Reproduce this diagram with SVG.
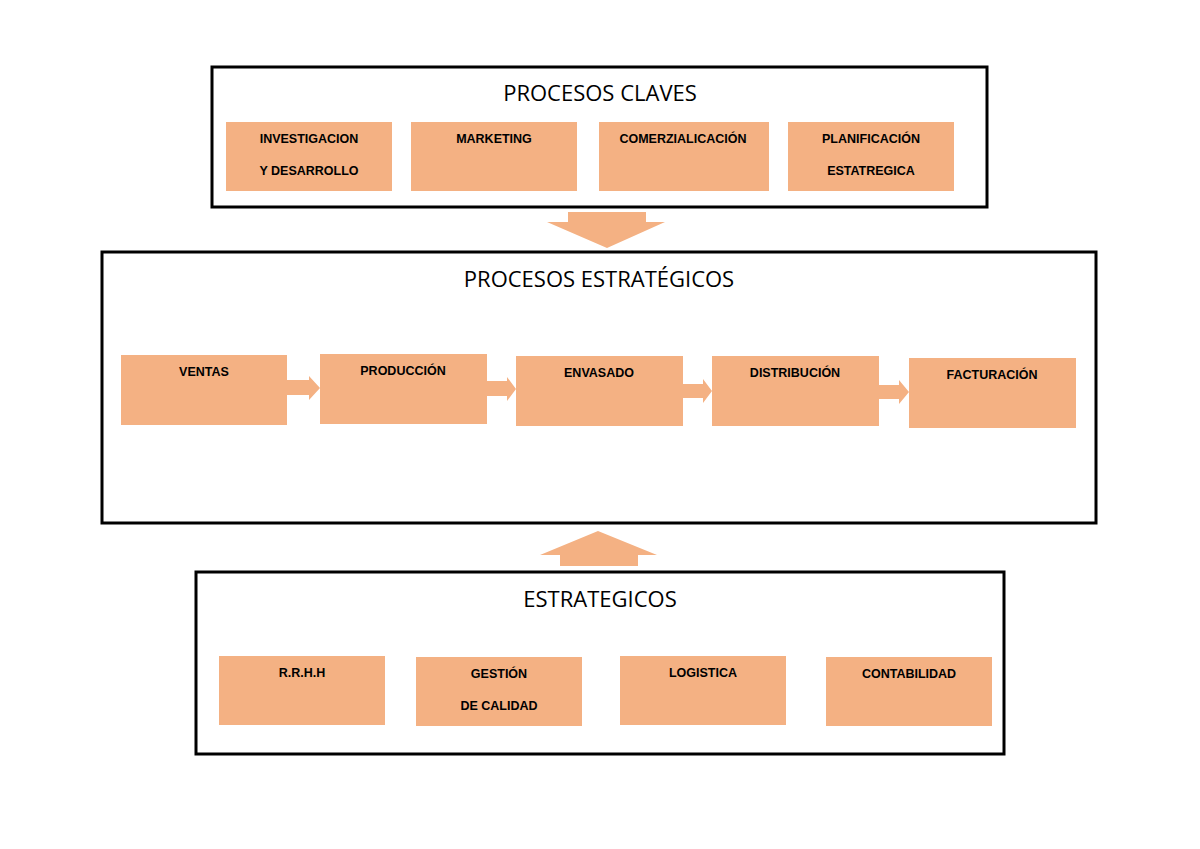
<svg xmlns="http://www.w3.org/2000/svg" width="1200" height="849" viewBox="0 0 1200 849">
<style>
.frame{fill:#fff;stroke:#000;stroke-width:3}
.box{fill:#f4b183}
.ar{fill:#f4b183}
.t{font-family:"Liberation Sans",Arial,sans-serif;font-size:12.5px;font-weight:bold;fill:#000;text-anchor:middle}
.h{font-family:"Open Sans","Liberation Sans",sans-serif;font-size:22px;fill:#000;text-anchor:middle}
</style>
<rect width="1200" height="849" fill="#fff"/>
<g id="claves">
<rect class="frame" x="212" y="67" width="775" height="140"/>
<text class="h" x="600" y="101">PROCESOS CLAVES</text>
</g>
<g id="investigacion"><rect class="box" x="226" y="122" width="166" height="69"/><text class="t" x="309" y="143">INVESTIGACION</text><text class="t" x="309" y="175">Y DESARROLLO</text></g>
<g id="marketing"><rect class="box" x="411" y="122" width="166" height="69"/><text class="t" x="494" y="143">MARKETING</text></g>
<g id="comerz"><rect class="box" x="599" y="122" width="170" height="69"/><text class="t" x="683" y="143">COMERZIALICACIÓN</text></g>
<g id="planif"><rect class="box" x="788" y="122" width="166" height="69"/><text class="t" x="871" y="143">PLANIFICACIÓN</text><text class="t" x="871" y="175">ESTATREGICA</text></g>
<g id="estrategicos-proc">
<rect class="frame" x="102" y="252" width="994" height="271"/>
<text class="h" x="599" y="287">PROCESOS ESTRATÉGICOS</text>
</g>
<g id="ventas"><rect class="box" x="121" y="355" width="166" height="70"/><text class="t" x="204" y="376">VENTAS</text></g>
<g id="produccion"><rect class="box" x="320" y="354" width="167" height="70"/><text class="t" x="403" y="375">PRODUCCIÓN</text></g>
<g id="envasado"><rect class="box" x="516" y="356" width="167" height="70"/><text class="t" x="599" y="377">ENVASADO</text></g>
<g id="distribucion"><rect class="box" x="712" y="356" width="167" height="70"/><text class="t" x="795" y="377">DISTRIBUCIÓN</text></g>
<g id="facturacion"><rect class="box" x="909" y="358" width="167" height="70"/><text class="t" x="992" y="379">FACTURACIÓN</text></g>
<g id="estrategicos">
<rect class="frame" x="196" y="572" width="808" height="182"/>
<text class="h" x="600" y="607">ESTRATEGICOS</text>
</g>
<g id="rrhh"><rect class="box" x="219" y="656" width="166" height="69"/><text class="t" x="302" y="677">R.R.H.H</text></g>
<g id="calidad"><rect class="box" x="416" y="657" width="166" height="69"/><text class="t" x="499" y="678">GESTIÓN</text><text class="t" x="499" y="710">DE CALIDAD</text></g>
<g id="logistica"><rect class="box" x="620" y="656" width="166" height="69"/><text class="t" x="703" y="677">LOGISTICA</text></g>
<g id="contabilidad"><rect class="box" x="826" y="657" width="166" height="69"/><text class="t" x="909" y="678">CONTABILIDAD</text></g>
<g id="connectors">
<polygon class="ar" points="568,212 646,212 646,222 665,222 607,248 547,222 568,222"/>
<polygon class="ar" points="598,531 657,555 638,555 638,566 560,566 560,555 540,555"/>
<polygon class="ar" points="287,380 309,380 309,376 320,388 309,400 309,395 287,395"/>
<polygon class="ar" points="487,381 507,381 507,377 516,389 507,401 507,396 487,396"/>
<polygon class="ar" points="683,384 703,384 703,379 712,391 703,403 703,398 683,398"/>
<polygon class="ar" points="879,385 899,385 899,380 909,392 899,404 899,399 879,399"/>
</g>
</svg>
